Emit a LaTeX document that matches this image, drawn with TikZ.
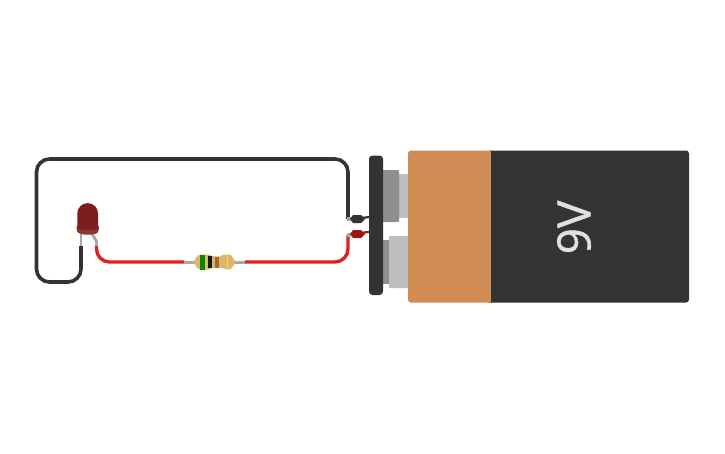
\documentclass[tikz,border=0pt]{standalone}
\usepackage{fontspec}
\setmainfont{Open Sans}
\newfontfamily\labfont[FakeBold=1]{Open Sans}
\definecolor{dk}{HTML}{333333}
\definecolor{rd}{HTML}{E02020}
\definecolor{copper}{HTML}{D08C52}
\definecolor{ledd}{HTML}{7C1D1D}
\definecolor{ledb}{HTML}{8E3434}
\definecolor{lead}{HTML}{A8A8A8}
\definecolor{tan}{HTML}{DDB56E}
\definecolor{lg}{HTML}{BDBDBD}
\definecolor{mg}{HTML}{8F8F8F}
\tikzset{
  wireb/.style={draw=dk,line width=3.6pt,rounded corners=13pt},
  wirer/.style={draw=rd,line width=3.4pt,rounded corners=13pt},
  part/.style={inner sep=0pt,outer sep=0pt,minimum width=0pt},
}
\begin{document}
\begin{tikzpicture}[x=1pt,y=-1pt]
\useasboundingbox (0,0) rectangle (725,453);
\fill[white] (0,0) rectangle (725,453);
% named terminals
\coordinate (ledA) at (81,246);
\coordinate (ledK) at (96.5,246);
\coordinate (resL) at (184,262);
\coordinate (resR) at (245,262);
\coordinate (clipB) at (348,219);
\coordinate (clipR) at (348,235);
% wires
\draw[wireb] (clipB) -- (348,159) -- (36.5,159) -- (36.5,282) -- (81,282) -- (ledA);
\draw[wirer] (clipR) -- (348,262) -- (resR);
\draw[wirer] (resL) -- (96.5,262) -- (ledK);
% led
\draw[lead,line width=2.8pt] (81,232) -- (ledA);
\draw[lead,line width=2.8pt] (92,234) -- (96.5,241) -- (ledK);
\path[fill=ledb] (76.5,226) .. controls (76.5,231) and (77,233) .. (81,234) .. controls (86,235) and (90,235) .. (95,234) .. controls (98.5,233) and (99,231) .. (99,226) -- cycle;
\fill[ledd] (77.3,228.5) -- (77.3,213.5) arc[start angle=180,end angle=360,x radius=10.4,y radius=10.4] -- (98.1,228.5) .. controls (92,230.5) and (83,230.5) .. (77.3,228.5) -- cycle;
% resistor
\draw[lead,line width=3pt] (resL) -- (197,262);
\draw[lead,line width=3pt] (233,262) -- (resR);
\path[fill=tan] (193,262) .. controls (196,259) and (197,254.5) .. (201,254.5) -- (209,254.5)
  .. controls (211,256.5) and (218,256.5) .. (220,256.5) .. controls (222,254.5) and (224,254.5) .. (229,254.5)
  .. controls (232,254.5) and (233,259) .. (236,262) .. controls (233,265) and (232,269.5) .. (229,269.5)
  .. controls (224,269.5) and (222,267.5) .. (220,267.5) .. controls (218,267.5) and (211,267.5) .. (209,269.5)
  -- (201,269.5) .. controls (197,269.5) and (196,265) .. (193,262) -- cycle;
\fill[green!55!black] (200,254.5) rectangle (204.5,269.5);
\fill[black!90] (207.5,256) rectangle (211.5,268);
\fill[brown!75!orange!80!black] (214.5,256.5) rectangle (219,267.5);
\fill[yellow!70!tan] (226.5,255.5) rectangle (228,268.5);
% battery
\fill[lg] (399,174) rectangle (408,218);
\fill[mg,rounded corners=1pt] (380,170) rectangle (399,222);
\fill[mg] (380,240) rectangle (389,284);
\fill[lg,rounded corners=1pt] (389,236) rectangle (408,288);
\fill[dk,rounded corners=3.5pt] (369,155.5) rectangle (383,295);
\fill[copper,rounded corners=3pt] (408,150.5) rectangle (495,302.5);
\fill[dk,rounded corners=3pt] (487,150.5) rectangle (689,302.5);
\fill[copper] (487,150.5) rectangle (491.3,302.5);
% clips
\draw[dk,line width=2.2pt] (355,219) -- (369,217);
\draw[rd!75!black,line width=2.2pt] (355,233.5) -- (369,232);
\fill[lead] (346.5,217) rectangle (351,221);
\fill[lead] (346.5,232.5) rectangle (351,236.5);
\path[fill=dk] (350,219) -- (353,215) -- (361,215) -- (365,219) -- (361,223) -- (353,223) -- cycle;
\path[fill=rd!70!black] (350,234) -- (353,230) -- (361,230) -- (365,234) -- (361,238) -- (353,238) -- cycle;
% label
\node[part,text=white!88!black,font=\labfont\fontsize{46}{46}\selectfont,rotate=90] (lab) at (574,227.5) {9V};
\end{tikzpicture}
\end{document}
